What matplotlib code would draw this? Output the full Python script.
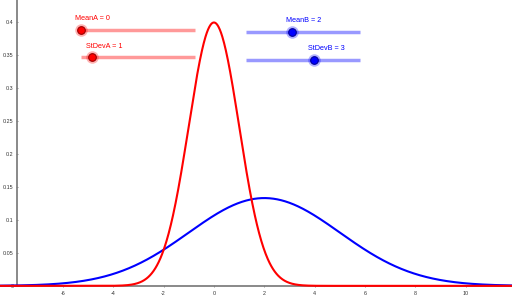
import numpy as np
import matplotlib
matplotlib.use("Agg")
import matplotlib.pyplot as plt

# ---- data ----
mean_a, sd_a = 0, 1
mean_b, sd_b = 2, 3
x_ticks = [-6, -4, -2, 0, 2, 4, 6, 8, 10]
y_ticks = [0, 0.05, 0.1, 0.15, 0.2, 0.25, 0.3, 0.35, 0.4]
y_tick_labels = ["0", "0.05", "0.1", "0.15", "0.2", "0.25", "0.3", "0.35", "0.4"]
slider_names = ["MeanA", "StDevA", "MeanB", "StDevB"]
slider_values = [mean_a, sd_a, mean_b, sd_b]
slider_ranges = [(0, 10), (0, 10), (0, 5), (0, 5)]

W, H = 512, 305
fig = plt.figure(figsize=(W / 100, H / 100), dpi=100)
ax = fig.add_axes([0, 0, 1, 1])
ax.set_xlim(-8.49, 11.83)
ax.set_ylim(-0.029, 0.433)

grey = "#808080"
for s in ["top", "right"]:
    ax.spines[s].set_visible(False)
ax.spines["left"].set_position(("data", -7.82))
ax.spines["bottom"].set_position(("data", 0))
ax.spines["left"].set_bounds(0, 0.433)
ax.spines["left"].set_color(grey)
ax.spines["bottom"].set_color(grey)
ax.spines["left"].set_linewidth(1.3)
ax.spines["bottom"].set_linewidth(1.3)

ax.set_xticks(x_ticks)
ax.set_xticklabels([str(t) for t in x_ticks])
ax.set_yticks(y_ticks)
ax.set_yticklabels(y_tick_labels)
ax.tick_params(axis="both", labelsize=3.9, length=2.0, width=0.6,
               direction="inout", pad=1.5, labelfontfamily="Liberation Sans")
ax.tick_params(axis="x", colors=grey, labelcolor="#333333", pad=2.5)
ax.tick_params(axis="y", colors=grey, labelcolor="#333333")

xs = np.linspace(-8.6, 12, 1200)
def pdf(x, m, s):
    return np.exp(-0.5 * ((x - m) / s) ** 2) / (s * np.sqrt(2 * np.pi))

ax.plot(xs, pdf(xs, mean_b, sd_b), color="#0000ff", lw=1.5, zorder=3)
ax.plot(xs, pdf(xs, mean_a, sd_a), color="#ff0000", lw=1.5, zorder=4)

# ---- sliders (figure pixel coords, origin top-left) ----
slider_geom = [  # x_start, x_end, y
    (81, 195, 30),
    (81, 195, 57),
    (246, 360, 32),
    (246, 360, 60),
]
slider_line_col = ["#ff9999", "#ff9999", "#9999ff", "#9999ff"]
slider_pt_col = ["#ff0000", "#ff0000", "#0000ff", "#0000ff"]
slider_edge_col = ["#990000", "#990000", "#000099", "#000099"]
slider_txt_col = ["#ff0000", "#ff0000", "#0000ff", "#0000ff"]

def fx(px):
    return px / W
def fy(py):
    return 1 - py / H

for name, val, rng, geom, lc, pc, ec, tc in zip(slider_names, slider_values, slider_ranges,
                                               slider_geom, slider_line_col, slider_pt_col,
                                               slider_edge_col, slider_txt_col):
    x0, x1, y = geom
    frac = (val - rng[0]) / (rng[1] - rng[0])
    px = x0 + frac * (x1 - x0)
    fig.add_artist(plt.Line2D([fx(x0), fx(x1)], [fy(y), fy(y)], transform=fig.transFigure,
                              color=lc, lw=2.5, solid_capstyle="butt", zorder=5))
    fig.add_artist(plt.Line2D([fx(px)], [fy(y)], transform=fig.transFigure, marker="o",
                              markersize=9, color=pc, alpha=0.3, markeredgewidth=0, zorder=6))
    fig.add_artist(plt.Line2D([fx(px)], [fy(y)], transform=fig.transFigure, marker="o",
                              markersize=5.5, markerfacecolor=pc, markeredgecolor=ec,
                              markeredgewidth=0.8, zorder=7))
    fig.text(fx(px - 6), fy(y - 11), f"{name} = {val}", color=tc, fontsize=5.2,
             family="Liberation Sans", ha="left", va="center", zorder=8)

fig.savefig("out.png", dpi=100)
